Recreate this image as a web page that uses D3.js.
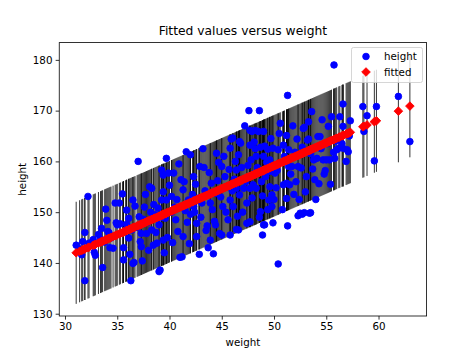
<!DOCTYPE html>
<html><head><meta charset="utf-8">
<script src="https://cdn.jsdelivr.net/npm/d3@7"></script>
<style>body{margin:0;background:#fff}svg{display:block;font-family:"DejaVu Sans",sans-serif}</style>
</head><body><svg id="c" width="474" height="355"></svg>
<script>
const weight = [
31.07,31.6,31.4,31.9,31.9,31.7,32.2,32.3,32.7,32.8,32.9,33.2,33.4,33.5,33.6,33.8,33.9,34.0,34.1,34.2,34.3,34.4,34.6,34.8,34.9,35.0,35.2,35.3,35.5,35.6,35.6,35.8,35.9,35.9,36.1,36.1,36.2,36.3,36.4,36.5,36.5,36.6,36.7,36.9,37.0,37.1,37.2,37.3,37.3,37.4,37.5,
37.6,37.7,37.8,37.9,38.0,38.1,38.2,38.3,38.3,38.45,38.5,38.6,38.7,38.8,38.9,39.0,39.0,39.1,39.25,39.25,39.3,39.4,39.4,39.4,39.5,39.6,39.7,39.7,39.8,39.9,
40.0,40.2,40.2,40.3,40.4,40.5,40.6,40.7,40.8,40.9,41.0,41.1,41.2,41.3,41.3,41.4,41.5,41.6,41.7,41.8,41.9,42.0,42.0,42.2,42.3,42.3,42.4,42.5,42.6,42.6,42.8,42.85,42.9,43.0,43.1,43.2,43.3,43.4,43.5,43.6,43.7,43.8,43.9,43.9,44.0,44.1,44.2,44.3,44.4,44.5,44.5,44.6,44.7,44.8,44.9,45.0,45.0,45.1,
45.2,45.3,45.4,45.5,45.6,45.7,45.8,45.8,45.8,45.9,46.0,46.05,46.1,46.2,46.3,46.4,46.4,46.4,46.5,46.6,46.6,46.7,46.7,46.8,46.9,47.0,47.1,47.2,47.3,47.4,47.4,47.5,47.6,47.7,47.7,47.7,47.7,47.8,47.9,47.9,48.0,48.1,48.1,48.2,48.2,48.3,48.3,48.4,48.5,48.6,48.6,48.7,48.7,48.8,48.9,48.9,49.0,49.0,49.0,49.1,49.1,49.2,49.3,49.4,49.4,49.5,49.6,49.6,49.6,49.7,49.8,49.8,49.9,49.9,
50.0,50.1,50.2,50.3,50.4,50.4,50.5,50.6,50.8,50.9,50.9,51.0,51.2,51.2,51.2,51.3,51.3,51.4,51.4,51.5,51.6,51.7,51.8,51.9,52.0,52.1,52.2,52.3,52.3,52.4,52.5,52.6,52.7,52.7,52.8,52.9,52.9,53.0,53.1,53.2,53.3,53.3,53.4,53.5,53.5,53.6,53.7,53.8,53.9,54.0,54.1,54.2,54.3,54.4,54.5,54.6,54.7,54.8,54.9,55.0,55.1,55.2,55.3,55.4,
55.5,55.7,55.74,55.8,55.9,56.0,56.2,56.3,56.5,56.6,56.6,56.6,56.9,57.0,57.1,57.2,57.3,
58.5,58.6,58.9,59.6,59.8,61.9,63.0
];
const height = [
143.5,141.6,142.8,146.0,136.5,144.2,153.1,143.9,144.6,142.1,141.5,145.6,144.7,146.8,139.1,144.1,150.6,148.4,146.2,146.0,143.0,144.9,142.9,151.8,147.9,147.5,151.8,147.7,153.6,143.0,140.6,146.5,150.4,147.6,148.8,144.9,141.7,136.5,146.5,152.4,139.9,140.1,151.2,147.0,160.0,149.1,144.2,145.8,143.2,140.4,148.6,
151.0,153.5,145.8,148.0,142.5,155.0,150.0,146.5,154.7,143.5,151.5,149.5,146.0,143.9,150.8,147.5,138.3,138.6,158.3,152.4,149.0,157.3,154.0,144.5,142.0,148.8,160.6,152.4,145.0,157.7,
155.3,153.1,150.0,144.0,157.7,151.0,148.5,152.5,146.2,159.5,141.1,156.4,141.2,154.4,145.2,156.0,150.3,161.9,148.0,152.4,143.8,161.3,149.6,153.5,157.0,151.1,150.0,155.5,145.2,147.8,152.8,141.7,159.0,149.0,151.8,162.5,158.8,154.2,146.4,147.3,143.0,157.8,151.8,144.5,155.7,150.5,141.8,148.2,147.5,161.6,153.7,156.2,159.8,145.8,153.0,159.0,145.5,151.1,
161.0,157.0,150.0,155.0,148.5,158.4,162.6,152.4,145.5,164.4,154.2,164.6,151.1,156.5,160.0,154.7,146.6,158.3,149.2,161.3,146.5,163.9,153.4,163.6,158.8,150.0,154.7,167.0,156.0,151.8,147.8,159.2,170.0,163.2,166.1,148.1,154.7,160.3,165.9,152.8,155.4,157.6,163.8,162.5,166.1,161.0,154.7,158.8,165.9,170.0,149.0,150.1,162.8,156.0,153.2,145.5,161.0,165.9,147.5,163.0,147.5,157.0,159.8,162.4,150.5,152.4,160.3,158.0,155.0,164.5,153.4,151.1,162.6,147.9,
152.5,157.7,154.8,158.2,162.3,139.8,165.5,167.5,150.5,163.2,155.4,161.0,165.1,155.7,152.7,173.0,147.3,162.3,159.0,155.4,157.5,159.0,167.0,153.5,161.8,156.0,164.4,159.0,149.3,152.5,149.8,158.7,162.8,149.6,166.5,166.7,149.9,154.0,157.0,164.2,164.4,167.8,149.8,161.5,149.9,169.8,158.5,160.3,156.4,152.5,160.6,164.9,155.6,164.9,162.5,168.2,160.3,157.5,158.2,160.3,163.5,166.9,160.3,155.5,
168.8,161.8,179.0,160.6,164.0,162.3,162.6,168.8,163.5,171.3,166.9,162.6,160.0,162.3,161.9,165.0,168.0,
170.8,165.9,169.0,160.1,170.8,172.8,163.9
];
const xTicks = [30,35,40,45,50,55,60];
const yTicks = [130,140,150,160,170,180];
const legendLabels = ["height","fitted"];
const titleText = "Fitted values versus weight";
const xLabel = "weight", yLabel = "height";
const fitIntercept = 113.88, fitSlope = 0.905, residSd = 5.07;

// 95% prediction interval (as statsmodels plot_fit)
const n = weight.length;
const xbar = d3.mean(weight);
let sxx=0; for(let i=0;i<n;i++){sxx+=(weight[i]-xbar)**2;}
const tq = 1.967;
const data = weight.map((w,i)=>{
  const f = fitIntercept + fitSlope*w;
  const hw = tq*residSd*Math.sqrt(1+1/n+(w-xbar)**2/sxx);
  return {w, h:height[i], f, lo:f-hw, hi:f+hw};
});

const svg = d3.select("#c");
const L=59.25, R=426.6, T=42.6, B=316;
const x = d3.scaleLinear().domain([29.45,64.6]).range([L,R]);
const y = d3.scaleLinear().domain([129.55,183.4]).range([B,T]);

svg.append("defs").append("clipPath").attr("id","clip")
  .append("rect").attr("x",L).attr("y",T).attr("width",R-L).attr("height",B-T);
const g = svg.append("g").attr("clip-path","url(#clip)");

g.selectAll("line.pi").data(data).enter().append("line")
  .attr("x1",d=>x(d.w)).attr("x2",d=>x(d.w))
  .attr("y1",d=>y(d.lo)).attr("y2",d=>y(d.hi))
  .attr("stroke","#000").attr("stroke-opacity",0.8).attr("stroke-width",1);

g.selectAll("circle.pt").data(data).enter().append("circle")
  .attr("cx",d=>x(d.w)).attr("cy",d=>y(d.h)).attr("r",3.3)
  .attr("fill","#0000ff").attr("stroke","#0000ff").attr("stroke-width",0.9);

const dia = (cx,cy,r)=>`M${cx},${cy-r}L${cx+r},${cy}L${cx},${cy+r}L${cx-r},${cy}Z`;
g.selectAll("path.fit").data(data).enter().append("path")
  .attr("d",d=>dia(x(d.w),y(d.f),4.3))
  .attr("fill","#ff0000").attr("stroke","#ff0000").attr("stroke-width",0.9);

// axes
const xa = svg.append("g").attr("transform",`translate(0,${B})`)
  .call(d3.axisBottom(x).tickValues(xTicks).tickSize(3.6).tickSizeOuter(0).tickPadding(3.2));
const ya = svg.append("g").attr("transform",`translate(${L},0)`)
  .call(d3.axisLeft(y).tickValues(yTicks).tickSize(3.6).tickSizeOuter(0).tickPadding(3.2));
[xa,ya].forEach(a=>{
  a.select(".domain").remove();
  a.selectAll("text").attr("font-size","10.3px").attr("fill","#000").attr("font-family","DejaVu Sans");
  a.selectAll("line").attr("stroke","#000").attr("stroke-width",0.8);
});
svg.append("rect").attr("x",L).attr("y",T).attr("width",R-L).attr("height",B-T)
  .attr("fill","none").attr("stroke","#000").attr("stroke-width",0.8);

// legend
const lg = svg.append("g");
lg.append("rect").attr("x",351.5).attr("y",47.5).attr("width",71).attr("height",35).attr("rx",2)
  .attr("fill","#fff").attr("fill-opacity",0.8).attr("stroke","#cccccc").attr("stroke-width",0.8);
lg.append("circle").attr("cx",366).attr("cy",56.5).attr("r",3.3).attr("fill","#0000ff").attr("stroke","#0000ff").attr("stroke-width",0.9);
lg.append("path").attr("d",dia(366,72,4.3)).attr("fill","#ff0000").attr("stroke","#ff0000").attr("stroke-width",0.9);
lg.selectAll("text").data(legendLabels).enter().append("text")
  .attr("x",384).attr("y",(d,i)=>56.5+i*15.5).attr("dy","0.35em")
  .attr("font-size","10.3px").attr("fill","#000").text(d=>d);

// titles
svg.append("text").attr("x",(L+R)/2).attr("y",31).attr("dy","0.35em").attr("text-anchor","middle")
  .attr("font-size","12.3px").attr("fill","#000").text(titleText);
svg.append("text").attr("x",(L+R)/2).attr("y",342).attr("dy","0.35em").attr("text-anchor","middle")
  .attr("font-size","10.3px").attr("fill","#000").text(xLabel);
svg.append("text").attr("transform",`translate(22,${(T+B)/2}) rotate(-90)`).attr("dy","0.35em")
  .attr("text-anchor","middle").attr("font-size","10.3px").attr("fill","#000").text(yLabel);
</script></body></html>
